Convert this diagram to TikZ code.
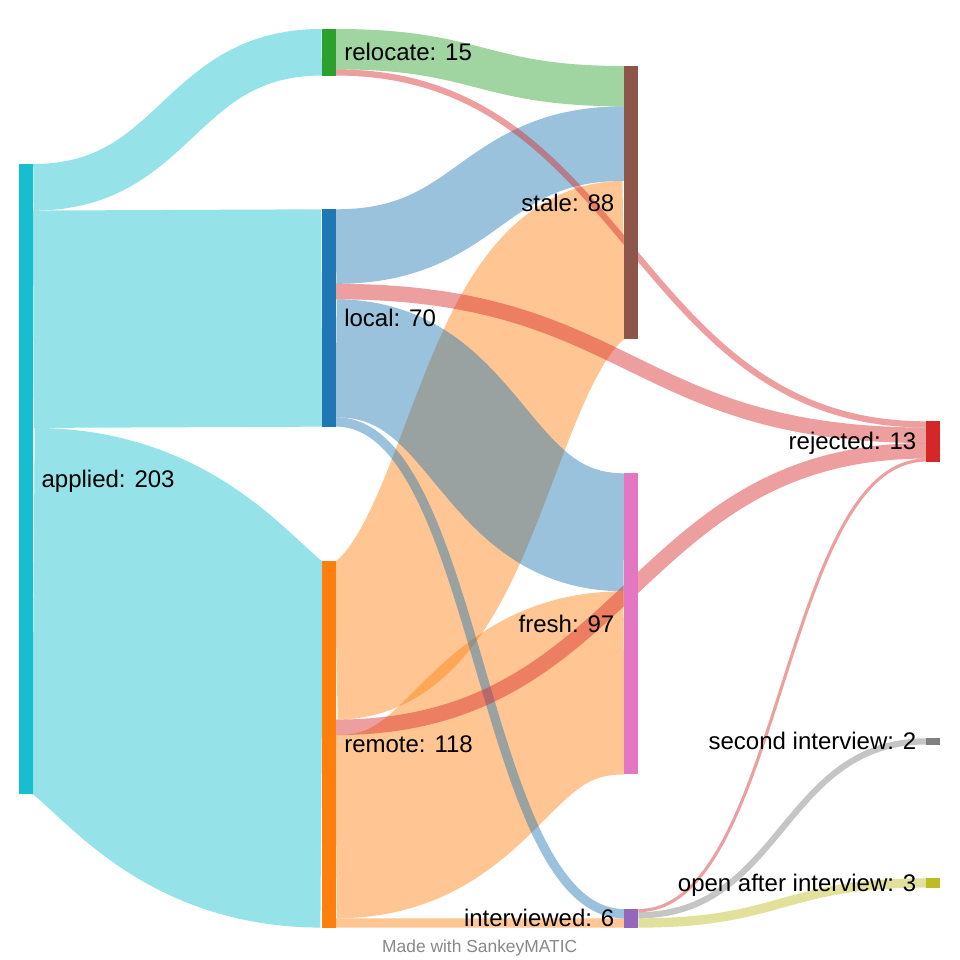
\documentclass[tikz,border=0pt]{standalone}
\usepackage{fontspec}
\setmainfont{Liberation Sans}
\usetikzlibrary{calc}
\pgfdeclarelayer{flows}
\pgfsetlayers{flows,main}
\definecolor{cApplied}{HTML}{17BECF}
\definecolor{cRelocate}{HTML}{2CA02C}
\definecolor{cLocal}{HTML}{1F77B4}
\definecolor{cRemote}{HTML}{FF7F0E}
\definecolor{cStale}{HTML}{8C564B}
\definecolor{cFresh}{HTML}{E377C2}
\definecolor{cInterv}{HTML}{9467BD}
\definecolor{cRejected}{HTML}{D62728}
\definecolor{cSecond}{HTML}{7F7F7F}
\definecolor{cOpen}{HTML}{BCBD22}
\definecolor{cCredit}{HTML}{888888}
\def\su{3.105}
\newcommand\labelfont{\fontsize{24}{28}\selectfont}
\newcommand\sflow[6]{%
  \draw[flowline, draw=#6, line width={(#5)*\su*1pt}]
    let \p1=([yshift={-((#2)+(#5)/2)*\su*1pt}]#1.north east),
        \p2=([yshift={-((#4)+(#5)/2)*\su*1pt}]#3.north west)
    in (\p1) .. controls ({(\x1+\x2)/2},\y1) and ({(\x1+\x2)/2},\y2) .. (\p2);%
}
\begin{document}
\begin{tikzpicture}[x=1pt,y=-1pt,
  nodebar/.style={rectangle, draw=none, inner sep=0pt, outer sep=0pt,
    minimum width=14.4pt, anchor=north west},
  flowline/.style={draw opacity=0.45, line cap=butt},
  lblL/.style={anchor=base west, inner sep=0pt, font=\labelfont, text=black},
  lblR/.style={anchor=base east, inner sep=0pt, font=\labelfont, text=black},
  credit/.style={anchor=base, inner sep=0pt, font=\fontsize{17.4}{20}\selectfont, text=cCredit}]
\useasboundingbox (0,0) rectangle (960,960);
% nodes
\node[nodebar, fill=cApplied,  minimum height={203*\su*1pt}] (applied)     at (19,164) {};
\node[nodebar, fill=cRelocate, minimum height={15*\su*1pt}]  (relocate)    at (321.7,29) {};
\node[nodebar, fill=cLocal,    minimum height={70*\su*1pt}]  (local)       at (321.7,209.3) {};
\node[nodebar, fill=cRemote,   minimum height={118*\su*1pt}] (remote)      at (321.7,561.2) {};
\node[nodebar, fill=cStale,    minimum height={88*\su*1pt}]  (stale)       at (624,66) {};
\node[nodebar, fill=cFresh,    minimum height={97*\su*1pt}]  (fresh)       at (624,473.3) {};
\node[nodebar, fill=cInterv,   minimum height={6*\su*1pt}]   (interviewed) at (624,909.0) {};
\node[nodebar, fill=cRejected, minimum height={13*\su*1pt}]  (rejected)    at (926,421.3) {};
\node[nodebar, fill=cSecond,   minimum height={2*\su*1pt}]   (second)      at (926,738.3) {};
\node[nodebar, fill=cOpen,     minimum height={3*\su*1pt}]   (open)        at (926,878.3) {};
% flows
\begin{pgfonlayer}{flows}
\sflow{applied}{0}{relocate}{0}{15}{cApplied}
\sflow{applied}{15}{local}{0}{70}{cApplied}
\sflow{applied}{85}{remote}{0}{118}{cApplied}
\sflow{relocate}{0}{stale}{0}{13}{cRelocate}
\sflow{remote}{0}{stale}{37}{51}{cRemote}
\sflow{remote}{56}{fresh}{38}{59}{cRemote}
\sflow{remote}{115}{interviewed}{3}{3}{cRemote}
\sflow{local}{0}{stale}{13}{24}{cLocal}
\sflow{local}{29}{fresh}{0}{38}{cLocal}
\sflow{local}{67}{interviewed}{0}{3}{cLocal}
\sflow{relocate}{13}{rejected}{0}{2}{cRejected}
\sflow{local}{24}{rejected}{2}{5}{cRejected}
\sflow{remote}{51}{rejected}{7}{5}{cRejected}
\sflow{interviewed}{0}{rejected}{12}{1}{cRejected}
\sflow{interviewed}{1}{second}{0}{2}{cSecond}
\sflow{interviewed}{3}{open}{0}{3}{cOpen}
\end{pgfonlayer}
% labels
\node[lblL] (lapplied)  at ([xshift=8pt,yshift=-8.4pt]applied.east)  {applied: 203};
\node[lblL] (lrelocate) at ([xshift=8pt,yshift=-8.4pt]relocate.east) {relocate: 15};
\node[lblL] (llocal)    at ([xshift=8pt,yshift=-8.4pt]local.east)    {local: 70};
\node[lblL] (lremote)   at ([xshift=8pt,yshift=-8.4pt]remote.east)   {remote: 118};
\node[lblR] (lstale)    at ([xshift=-9.5pt,yshift=-8.4pt]stale.west)  {stale: 88};
\node[lblR] (lfresh)    at ([xshift=-9.5pt,yshift=-8.4pt]fresh.west)  {fresh: 97};
\node[lblR] (linterv)   at ([xshift=-9.5pt,yshift=-8.4pt]interviewed.west) {interviewed: 6};
\node[lblR] (lrejected) at ([xshift=-9.5pt,yshift=-8.4pt]rejected.west) {rejected: 13};
\node[lblR] (lsecond)   at ([xshift=-9.5pt,yshift=-8.4pt]second.west) {second interview: 2};
\node[lblR] (lopen)     at ([xshift=-9.5pt,yshift=-8.4pt]open.west)   {open after interview: 3};
\node[credit] (madewith) at (479.7,952.3) {Made with SankeyMATIC};
\end{tikzpicture}
\end{document}
